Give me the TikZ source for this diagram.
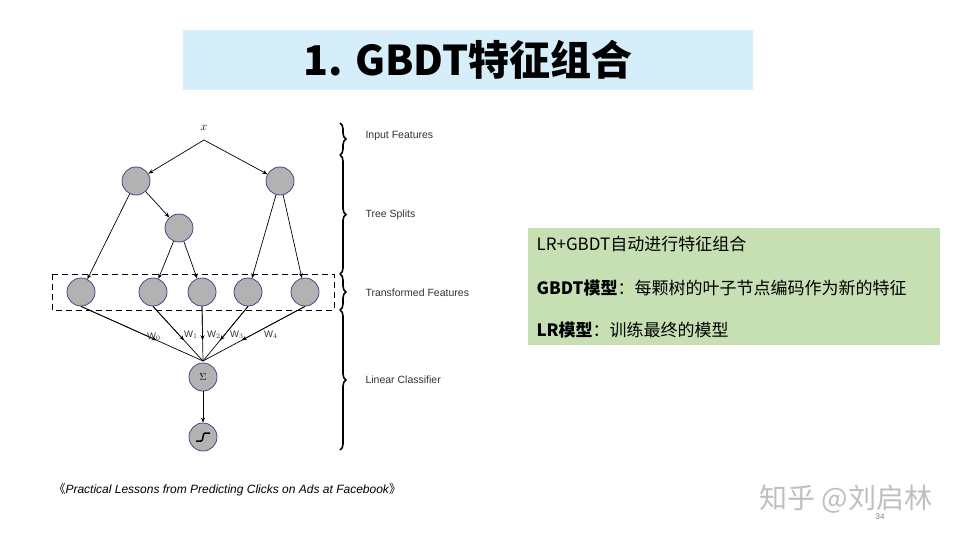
\documentclass[tikz,border=0pt]{standalone}
\usepackage{fontspec}
\setmainfont{Noto Sans CJK SC}
\newfontfamily\lib{Liberation Sans}
\newfontfamily\cjk{Noto Sans CJK SC}
\usetikzlibrary{arrows.meta,decorations.pathreplacing,calc}
\definecolor{titlebg}{HTML}{D5EEFA}
\definecolor{greenbg}{HTML}{C6E0B4}
\begin{document}
\begin{tikzpicture}[x=1pt,y=-1pt,
  nd/.style={circle,draw=blue!30!gray!80!black,fill=gray!60,line width=0.8pt,minimum size=28pt,inner sep=0},
  ar/.style={-{Stealth[length=5pt,width=4pt]},line width=0.7pt},
  lab/.style={font=\lib\fontsize{10.5}{12}\selectfont,anchor=west,text=black!80},
  wl/.style={font=\lib\fontsize{9.5}{10}\selectfont,anchor=west,inner sep=0,text=black!80},
  br/.style={decorate,decoration={brace,amplitude=6pt},line width=1.6pt}]
\useasboundingbox (0,0) rectangle (960,540);
\fill[white] (0,0) rectangle (960,540);
\fill[titlebg] (183,30) rectangle (753,90);
\node[font=\bfseries\fontsize{41}{43}\selectfont] (title) at (468,60) {1. GBDT特征组合};
% diagram
\node[font=\fontsize{12}{12}\selectfont] (x) at (204,128) {$x$};
\coordinate (xa) at (204,140);
\node[nd] (t1) at (136,181) {};
\node[nd] (t2) at (280,181) {};
\node[nd] (m) at (179,228) {};
\node[nd] (l1) at (81,292) {};
\node[nd] (l2) at (153,292) {};
\node[nd] (l3) at (202,292) {};
\node[nd] (l4) at (248,292) {};
\node[nd] (l5) at (305,292) {};
\node[nd] (s) at (203,377) {$\Sigma$};
\node[nd] (g) at (203,437) {};
\draw[line width=1.5pt] ([xshift=-7pt,yshift=-4pt]g.center) -- ([xshift=-2pt,yshift=-4pt]g.center) .. controls ([xshift=1pt,yshift=-4pt]g.center) and ([xshift=-1pt,yshift=4pt]g.center) .. ([xshift=2pt,yshift=4pt]g.center) -- ([xshift=7pt,yshift=4pt]g.center);
\draw[dashed,line width=1pt,dash pattern=on 6pt off 4pt] (52,274) rectangle (334,310);
\draw[ar] (xa) -- (t1);
\draw[ar] (xa) -- (t2);
\draw[ar] (t1) -- (m);
\draw[ar] (t1) -- (l1);
\draw[ar] (m) -- (l2);
\draw[ar] (m) -- (l3);
\draw[ar] (t2) -- (l4);
\draw[ar] (t2) -- (l5);
\coordinate (c) at (203,361);
\foreach \i in {1,2,3,4,5}{
  \draw[line width=0.7pt] (l\i.south) -- (c);
  \draw[ar] (l\i.south) -- ($(l\i.south)!0.62!(c)$);
}
\node[wl] (w0) at (147,337) {W$_0$};
\node[wl] (w1) at (184,335) {W$_1$};
\node[wl] (w2) at (207,335) {W$_2$};
\node[wl] (w3) at (230,335) {W$_3$};
\node[wl] (w4) at (264,335) {W$_4$};
\draw[ar] (s) -- (g);
% braces
\draw[br] (340,123) -- (340,155);
\draw[br] (340,155) -- (340,274);
\draw[br] (340,274) -- (340,310);
\draw[br] (340,310) -- (340,450);
\node[lab] (i1) at (362,136) {Input Features};
\node[lab] (i2) at (362,215) {Tree Splits};
\node[lab] (i3) at (362,293) {Transformed Features};
\node[lab] (i4) at (362,380) {Linear Classifier};
% green box
\fill[greenbg] (528,228) rectangle (940,345);
\node[anchor=west,font=\fontsize{17}{19}\selectfont] (g1) at (533,244) {LR+GBDT自动进行特征组合};
\node[anchor=west,font=\fontsize{17}{19}\selectfont] (g2) at (533,288) {\textbf{GBDT模型}：每颗树的叶子节点编码作为新的特征};
\node[anchor=west,font=\fontsize{17}{19}\selectfont] (g3) at (533,330) {\textbf{LR模型}：训练最终的模型};
\node[anchor=west,font=\lib\itshape\fontsize{12}{14}\selectfont] (cite) at (50,490) {{\cjk《}Practical Lessons from Predicting Clicks on Ads at Facebook{\cjk》}};
\node[font=\fontsize{28}{30}\selectfont,text=gray!50] (wm) at (846,499) {知乎 @刘启林};
\node[font=\lib\fontsize{8}{9}\selectfont,text=gray] (pg) at (880,517) {34};
\end{tikzpicture}
\end{document}
